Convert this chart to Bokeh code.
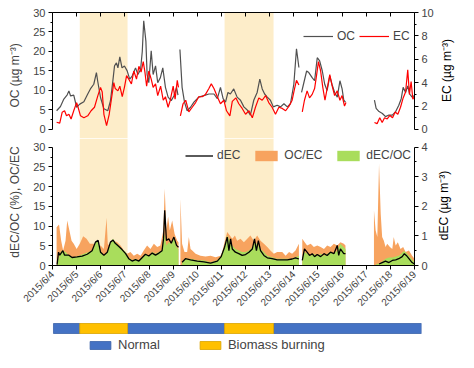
import math
from bokeh.plotting import figure
from bokeh.models import (Range1d, LinearAxis, FixedTicker, Legend, LegendItem,
                          BoxAnnotation, Label)
from bokeh.layouts import column, row
from bokeh.embed import file_html
from bokeh.resources import INLINE

nan = float("nan")
FONT = "Liberation Sans"

# ---------------- data (days since 2015/6/4 00:00) ----------------
day_labels = ["2015/6/4", "2015/6/5", "2015/6/6", "2015/6/7", "2015/6/8", "2015/6/9",
              "2015/6/10", "2015/6/11", "2015/6/12", "2015/6/13", "2015/6/14",
              "2015/6/15", "2015/6/16", "2015/6/17", "2015/6/18", "2015/6/19"]

# periods (Normal / Biomass burning)
phase_start = [0.04, 1.13, 3.11, 7.13, 9.16]
phase_end = [1.13, 3.11, 7.13, 9.16, 15.29]
phase_kind = ["Normal", "Biomass burning", "Normal", "Biomass burning", "Normal"]

# OC (µg m-3)
oc_t = [0.17, 0.33, 0.47, 0.61, 0.68, 0.75, 0.88, 1.00, 1.13, 1.30, 1.46, 1.57, 1.71, 1.82, 1.87,
        1.99, 2.13, 2.29, 2.40, 2.50, 2.57, 2.65, 2.71, 2.79, 2.88, 2.98, 3.09, 3.20, 3.30, 3.44,
        3.54, 3.65, 3.72, 3.78, 3.87, 3.92, 3.99, 4.09, 4.17, 4.27, 4.36, 4.47, 4.57, 4.68, 4.79,
        4.92, 5.03, 5.14, 5.20, 5.24,
        5.28, 5.37, 5.47, 5.58, 5.72, 5.86, 6.06, 6.27, 6.48, 6.69, 6.83, 6.96, 7.07, 7.17, 7.27,
        7.37, 7.51, 7.65, 7.79, 7.93, 8.07, 8.20, 8.34, 8.48, 8.59, 8.69, 8.79, 8.90, 9.03, 9.15,
        9.31, 9.45, 9.59, 9.73, 9.86, 10.00, 10.11, 10.21, 10.26,
        10.32, 10.40, 10.53, 10.62, 10.76, 10.86, 10.97, 11.07, 11.18, 11.28, 11.38, 11.49, 11.58,
        11.69, 11.80, 11.91, 12.00, 12.07, 12.14, 12.20,
        13.34, 13.41, 13.53, 13.67, 13.80, 13.94, 14.08, 14.22, 14.35, 14.45, 14.53, 14.63, 14.72,
        14.80, 14.90, 15.00]
oc_v = [4.8, 5.9, 7.8, 8.9, 9.9, 8.6, 8.8, 5.7, 6.5, 7.1, 9.1, 10.4, 11.6, 14.6, 12.5,
        8.2, 5.3, 4.8, 7.3, 12.4, 16.3, 17.1, 15.8, 18.6, 15.8, 16.3, 15.1, 12.9, 13.7, 15.8,
        14.1, 15.4, 20.0, 27.9, 22.6, 14.1, 12.0, 20.2, 14.1, 16.3, 12.0, 13.3, 15.8, 10.8, 8.3,
        7.4, 8.6, 10.8, 8.8, nan,
        20.5, 10.8, 7.0, 4.8, 5.7, 7.0, 8.3, 8.7, 9.1, 9.1, 7.9, 10.8, 7.9, 7.0, 9.5,
        9.1, 10.4, 8.3, 7.5, 5.8, 5.0, 3.7, 7.5, 9.5, 12.9, 10.4, 9.1, 8.3, 7.5, 5.8,
        6.2, 5.8, 6.6, 5.8, 6.6, 11.6, 20.7, 15.9, nan,
        9.5, 11.6, 15.0, 14.6, 13.3, 12.5, 18.4, 17.6, 15.0, 11.6, 10.0, 13.7, 11.6,
        9.5, 8.3, 12.5, 10.4, 7.5, 7.0, nan,
        7.5, 5.4, 4.6, 4.1, 3.3, 3.7, 3.7, 4.6, 6.2, 7.9, 10.8, 9.5, 11.2,
        9.1, 8.3, 8.7]

# EC (µg m-3)
ec_t = [0.17, 0.30, 0.40, 0.50, 0.58, 0.68, 0.77, 0.88, 1.00, 1.06, 1.16, 1.30, 1.46, 1.60, 1.74,
        1.88, 1.99, 2.06, 2.13, 2.24, 2.35, 2.47, 2.54, 2.60, 2.71, 2.79, 2.89, 2.98, 3.07, 3.16,
        3.27, 3.37, 3.48, 3.58, 3.67, 3.76, 3.83, 3.90, 3.99, 4.09, 4.17, 4.27, 4.36, 4.48, 4.59,
        4.68, 4.79, 4.88, 5.00, 5.08, 5.17, 5.22, 5.26,
        5.30, 5.41, 5.52, 5.65, 5.79, 5.93, 6.06, 6.20, 6.34, 6.48, 6.58, 6.69, 6.83, 6.96, 7.10,
        7.21, 7.35, 7.45, 7.60, 7.72, 7.86, 8.00, 8.14, 8.28, 8.41, 8.55, 8.69, 8.83, 8.96, 9.10,
        9.24, 9.38, 9.52, 9.66, 9.80, 9.93, 10.03, 10.11, 10.21, 10.28,
        10.35, 10.44, 10.55, 10.65, 10.76, 10.86, 10.94, 11.02, 11.11, 11.20, 11.29, 11.38, 11.49,
        11.59, 11.69, 11.80, 11.91, 12.00, 12.10, 12.16, 12.20,
        13.34, 13.45, 13.56, 13.66, 13.76, 13.87, 13.98, 14.09, 14.20, 14.31, 14.42, 14.53, 14.63,
        14.72, 14.79, 14.86, 14.93, 15.00]
ec_v = [0.62, 0.55, 1.47, 1.60, 1.17, 1.30, 0.90, 1.60, 2.30, 1.90, 1.17, 1.00, 1.17, 1.60, 1.90,
        2.90, 3.60, 3.20, 1.30, 0.34, 1.30, 3.00, 4.00, 3.50, 3.30, 3.70, 2.80, 3.60, 4.60, 4.30,
        3.90, 5.00, 4.30, 5.40, 4.90, 5.80, 4.90, 3.70, 5.00, 4.30, 3.60, 3.90, 2.90, 3.70, 2.50,
        2.80, 1.90, 2.50, 3.70, 2.60, 4.20, 3.60, nan,
        1.17, 2.20, 2.50, 1.50, 1.90, 2.30, 2.80, 2.80, 3.00, 3.50, 3.90, 3.50, 2.80, 2.20, 2.50,
        1.60, 1.17, 2.40, 2.70, 2.20, 1.80, 1.30, 1.60, 1.00, 1.90, 2.70, 2.50, 2.90, 2.30, 1.90,
        1.30, 1.90, 1.80, 1.60, 2.00, 2.50, 3.50, 4.20, 3.80, nan,
        1.50, 2.50, 3.30, 2.70, 3.00, 3.50, 4.60, 5.80, 5.00, 3.60, 2.50, 3.50, 4.70,
        3.70, 2.90, 3.30, 2.50, 2.90, 2.00, 2.30, nan,
        0.60, 0.50, 1.00, 0.60, 1.00, 0.90, 1.20, 1.00, 1.50, 1.30, 1.90, 2.70, 3.20,
        5.10, 3.00, 4.10, 2.60, 2.80]

# OC/EC ratio
ocec_t = [0.17, 0.27, 0.36, 0.44, 0.54, 0.61, 0.70, 0.79, 0.88, 1.00, 1.13, 1.27, 1.41, 1.55, 1.71,
          1.85, 1.99, 2.13, 2.24, 2.29, 2.40, 2.54, 2.68, 2.82, 2.96, 3.09, 3.23, 3.37, 3.51, 3.65,
          3.78, 3.92, 4.06, 4.20, 4.34, 4.47, 4.59, 4.65, 4.72, 4.79, 4.86, 4.96, 5.06, 5.17, 5.22,
          5.26,
          5.30, 5.37, 5.47, 5.58, 5.65, 5.72, 5.79, 5.93, 6.13, 6.34, 6.55, 6.76, 6.96, 7.03, 7.13,
          7.24, 7.35, 7.45, 7.56, 7.65, 7.79, 7.93, 8.07, 8.20, 8.34, 8.48, 8.62, 8.76, 8.90, 9.03,
          9.17, 9.31, 9.52, 9.66, 9.80, 9.93, 10.07, 10.21, 10.28,
          10.35, 10.45, 10.55, 10.70, 10.83, 10.97, 11.11, 11.25, 11.38, 11.52, 11.66, 11.80, 11.93,
          12.07, 12.14, 12.20,
          13.32, 13.39, 13.46, 13.53, 13.60, 13.66, 13.73, 13.80, 13.87, 13.98, 14.08, 14.14, 14.22,
          14.31, 14.42, 14.53, 14.63, 14.77, 14.90, 15.00]
ocec_v = [9.7, 10.4, 6.3, 3.8, 6.3, 11.4, 8.9, 6.3, 5.5, 4.2, 5.5, 7.4, 6.8, 5.5, 5.5,
          4.7, 5.1, 4.2, 12.1, 5.5, 4.7, 6.3, 5.9, 5.1, 3.8, 3.0, 3.4, 2.5, 3.0, 2.5,
          3.8, 5.1, 4.2, 5.5, 4.7, 5.1, 8.9, 19.5, 8.9, 12.4, 8.9, 11.4, 8.0, 6.3, 5.9,
          nan,
          16.9, 5.5, 3.4, 3.4, 7.2, 4.2, 3.8, 3.0, 2.5, 2.3, 2.5, 2.1, 2.5, 3.4, 5.9,
          8.5, 7.6, 6.8, 7.6, 6.3, 6.8, 5.9, 6.8, 7.6, 6.3, 7.6, 6.3, 5.5, 4.7, 3.8,
          3.0, 3.4, 3.4, 2.5, 3.4, 3.0, 3.8, 5.5, nan,
          6.8, 5.9, 5.1, 5.5, 4.7, 5.1, 4.7, 4.2, 5.1, 4.7, 5.5, 5.1, 5.9,
          5.5, 5.1, nan,
          14.0, 8.9, 7.2, 25.8, 13.1, 7.2, 6.3, 4.7, 5.5, 4.7, 4.2, 7.2, 5.1,
          5.9, 4.2, 4.7, 3.4, 3.8, 2.5, 1.7]

# dEC/OC (%)
decoc_t = [0.19, 0.30, 0.39, 0.54, 0.68, 0.88, 1.09, 1.30, 1.50, 1.64, 1.78, 1.89, 1.99, 2.13, 2.27,
           2.40, 2.51, 2.60, 2.75, 2.89, 3.03, 3.16, 3.30, 3.44, 3.58, 3.72, 3.85, 3.99, 4.13, 4.27,
           4.41, 4.54, 4.64, 4.72, 4.82, 4.92, 5.03, 5.14, 5.22, 5.26,
           5.37, 5.51, 5.72, 6.00, 6.27, 6.55, 6.83, 6.99, 7.13, 7.24, 7.35, 7.45, 7.58, 7.72, 7.86,
           8.00, 8.14, 8.28, 8.41, 8.51, 8.62, 8.76, 8.90, 9.10, 9.31, 9.52, 9.73, 9.93, 10.07, 10.21,
           10.28,
           10.35, 10.45, 10.55, 10.70, 10.83, 10.97, 11.11, 11.25, 11.38, 11.52, 11.66, 11.80, 11.93,
           12.07, 12.14, 12.20,
           13.40, 13.53, 13.66, 13.80, 13.94, 14.08, 14.22, 14.35, 14.45, 14.55, 14.63, 14.77, 14.90,
           15.00]
decoc_v = [0.4, 3.0, 3.8, 3.4, 2.5, 2.1, 2.5, 3.0, 3.4, 3.8, 5.9, 6.3, 3.8, 2.5, 3.4,
           5.9, 6.8, 5.9, 5.1, 4.2, 3.4, 2.1, 1.3, 1.7, 1.3, 2.1, 3.0, 2.5, 3.4, 3.0,
           3.4, 3.8, 8.0, 5.1, 5.9, 5.5, 7.2, 4.7, 4.2, nan,
           0.8, 1.7, 1.7, 1.3, 1.3, 0.8, 1.3, 2.5, 5.1, 7.6, 6.3, 5.1, 4.2, 3.8, 3.4,
           3.4, 3.8, 4.7, 5.9, 5.1, 4.2, 3.4, 2.5, 2.1, 1.7, 1.7, 1.7, 1.7, 2.1, 2.5,
           nan,
           2.0, 3.4, 3.0, 2.5, 3.0, 2.5, 3.0, 2.5, 3.0, 3.4, 3.0, 3.8, 5.5,
           4.6, 4.2, nan,
           0.3, 0.5, 1.0, 1.7, 2.0, 2.0, 2.3, 2.5, 3.0, 3.6, 3.4, 2.5, 1.5,
           0.8]

# dEC (µg m-3)
dec_t = [0.19, 0.25, 0.30, 0.43, 0.50, 0.68, 0.81, 1.02, 1.23, 1.44, 1.64, 1.78, 1.89, 1.99, 2.13,
         2.27, 2.40, 2.51, 2.60, 2.75, 2.89, 3.03, 3.16, 3.30, 3.44, 3.58, 3.72, 3.85, 3.99, 4.13,
         4.27, 4.41, 4.54, 4.60, 4.65, 4.72, 4.82, 4.92, 5.03, 5.14, 5.22, 5.26,
         5.37, 5.51, 5.72, 6.00, 6.27, 6.55, 6.83, 6.99, 7.13, 7.24, 7.31, 7.38, 7.45, 7.58, 7.72,
         7.86, 8.00, 8.14, 8.28, 8.37, 8.45, 8.53, 8.62, 8.76, 8.90, 9.10, 9.31, 9.52, 9.73, 9.93,
         10.07, 10.21, 10.28,
         10.35, 10.44, 10.55, 10.65, 10.76, 10.86, 10.97, 11.11, 11.25, 11.38, 11.52, 11.66, 11.80,
         11.86, 11.93, 12.07, 12.14, 12.20,
         13.53, 13.66, 13.80, 13.94, 14.08, 14.22, 14.35, 14.49, 14.58, 14.66, 14.77, 14.90, 15.00]
dec_v = [0.03, 0.45, 0.35, 0.50, 0.35, 0.35, 0.27, 0.29, 0.32, 0.38, 0.50, 0.79, 0.85, 0.45, 0.35,
         0.45, 0.79, 0.86, 0.75, 0.64, 0.53, 0.40, 0.23, 0.15, 0.20, 0.15, 0.27, 0.38, 0.32, 0.42,
         0.35, 0.42, 0.50, 0.90, 1.87, 0.85, 0.90, 0.75, 0.96, 0.68, 0.62, nan,
         0.11, 0.23, 0.19, 0.15, 0.12, 0.08, 0.15, 0.30, 0.62, 0.96, 0.50, 0.90, 0.56, 0.45, 0.40,
         0.34, 0.37, 0.45, 0.56, 0.90, 0.50, 0.84, 0.50, 0.34, 0.26, 0.23, 0.19, 0.19, 0.19, 0.22,
         0.26, 0.22, nan,
         0.17, 0.56, 0.45, 0.34, 0.40, 0.30, 0.37, 0.30, 0.40, 0.34, 0.45, 0.40, 0.68,
         0.34, 0.56, 0.40, 0.40, nan,
         0.05, 0.10, 0.15, 0.10, 0.17, 0.19, 0.23, 0.30, 0.40, 0.34, 0.23, 0.10, 0.05]

# ---------------- styles ----------------
C_OC = "#505050"
C_EC = "#FF0000"
C_OCEC = "#F7A35F"
C_DECOC = "#A9DD5C"
C_DEC = "#000000"
C_SHADE = "#FDEDC9"
C_NORMAL = "#4472C4"
C_BURN = "#FFC000"

W = 466          # total width
BORDER_L = 52
FRAME_W = 362
PANEL_R = 23     # room for right-hand tick labels
PANEL_W = BORDER_L + FRAME_W + PANEL_R
TITLE_W = W - PANEL_W
PX_PER_DAY = FRAME_W / 15.0
H_TOP, H_BOT, H_BAR = 138, 180, 42


def segments(t, v):
    segs, ct, cv = [], [], []
    for a, b in zip(t, v):
        if math.isnan(b):
            if ct:
                segs.append((ct, cv))
            ct, cv = [], []
        else:
            ct.append(a)
            cv.append(b)
    if ct:
        segs.append((ct, cv))
    return segs


def style_y_axis(ax):
    ax.axis_label_text_font = FONT
    ax.axis_label_text_font_size = "12px"
    ax.axis_label_text_font_style = "normal"
    ax.axis_label_standoff = 8
    ax.major_label_text_font = FONT
    ax.major_label_text_font_size = "11px"
    ax.major_label_standoff = 3
    ax.axis_line_color = "black"
    ax.major_tick_line_color = "black"
    ax.minor_tick_line_color = "black"
    ax.major_tick_out = 4
    ax.major_tick_in = 0
    ax.minor_tick_out = 2
    ax.minor_tick_in = 0


def title_strip(height, text, sx, sy):
    # narrow strip holding the right-hand axis title, read bottom-to-top
    t = figure(width=TITLE_W, height=height, x_range=Range1d(0, 1), y_range=Range1d(0, 1),
               output_backend="svg", toolbar_location=None,
               x_axis_location=None, y_axis_location=None,
               min_border_left=0, min_border_right=0, min_border_top=0, min_border_bottom=0)
    try:
        t.frame_align = False
    except Exception:
        pass
    t.grid.visible = False
    t.outline_line_color = None
    t.add_layout(Label(x=sx, y=sy, x_units="screen", y_units="screen", text=text,
                       angle=math.pi / 2, text_align="center", text_baseline="middle",
                       text_font=FONT, text_font_size="12px", text_color="black"))
    return t


def base_fig(height, y_range, top, bottom, xloc="below"):
    p = figure(width=PANEL_W, height=height, x_range=Range1d(0, 15), y_range=y_range,
               output_backend="svg", toolbar_location=None,
               x_axis_location=xloc, y_axis_location="left",
               min_border_left=BORDER_L, min_border_right=PANEL_R,
               min_border_top=top, min_border_bottom=bottom)
    p.grid.visible = False
    p.outline_line_color = None
    p.background_fill_color = "white"
    p.border_fill_color = "white"
    for s, e, k in zip(phase_start, phase_end, phase_kind):
        if k == "Biomass burning":
            p.add_layout(BoxAnnotation(left=s, right=e, fill_color=C_SHADE, fill_alpha=1.0,
                                       line_color=None, level="underlay"))
    return p


def make_legend(items, loc, spacing, glyph_w, glyph_h, size="12px", standoff=4):
    return Legend(items=items, orientation="horizontal", location=loc,
                  spacing=spacing, padding=0, margin=0, glyph_width=glyph_w,
                  glyph_height=glyph_h, label_standoff=standoff, label_height=12,
                  label_text_font=FONT, label_text_font_size=size,
                  border_line_alpha=0, background_fill_alpha=0)


day_ticks = list(range(len(day_labels)))

# ---------------- top panel: OC / EC ----------------
p1 = base_fig(H_TOP, Range1d(-2.31, 30), top=12, bottom=0, xloc="above")
p1.extra_y_ranges = {"ec": Range1d(-0.77, 10)}
top_ax = p1.xaxis[0]
top_ax.ticker = FixedTicker(ticks=day_ticks)
top_ax.major_label_text_font_size = "1px"
top_ax.major_label_text_color = None
top_ax.major_label_standoff = 0
top_ax.major_tick_in = 4
top_ax.major_tick_out = 0
top_ax.minor_tick_line_color = None
top_ax.axis_line_color = "black"

ly = p1.yaxis[0]
ly.ticker = FixedTicker(ticks=[0, 5, 10, 15, 20, 25, 30],
                        minor_ticks=[2.5, 7.5, 12.5, 17.5, 22.5, 27.5])
ly.bounds = (0, 30)
ly.axis_label = "OC (µg m⁻³)"
style_y_axis(ly)

ry = LinearAxis(y_range_name="ec",
                ticker=FixedTicker(ticks=[0, 2, 4, 6, 8, 10], minor_ticks=[1, 3, 5, 7, 9]))
ry.bounds = (0, 10)
style_y_axis(ry)
p1.add_layout(ry, "right")

r_oc = None
for t, v in segments(oc_t, oc_v):
    r = p1.line(t, v, line_color=C_OC, line_width=1.2)
    r_oc = r_oc or r
r_ec = None
for t, v in segments(ec_t, ec_v):
    r = p1.line(t, v, line_color=C_EC, line_width=1.2, y_range_name="ec")
    r_ec = r_ec or r

p1.add_layout(make_legend([LegendItem(label="OC", renderers=[r_oc]),
                           LegendItem(label="EC", renderers=[r_ec])],
                          (251, 95), 2, 30, 12), "center")
t1 = title_strip(H_TOP, "EC (µg m⁻³)", 9, 68)

# ---------------- bottom panel: ratios / dEC ----------------
p2 = base_fig(H_BOT, Range1d(0, 32.2), top=0, bottom=53)
p2.extra_y_ranges = {"dec": Range1d(0, 4.293)}
bx = p2.xaxis[0]
bx.ticker = FixedTicker(ticks=day_ticks)
bx.major_label_overrides = {i: lab for i, lab in enumerate(day_labels)}
bx.major_label_orientation = math.pi / 4
bx.major_label_text_font = FONT
bx.major_label_text_font_size = "10px"
bx.major_label_standoff = 3
bx.major_tick_out = 4
bx.major_tick_in = 0
bx.minor_tick_line_color = None
bx.axis_line_color = "black"

ly2 = p2.yaxis[0]
ly2.ticker = FixedTicker(ticks=[0, 5, 10, 15, 20, 25, 30],
                         minor_ticks=[2.5, 7.5, 12.5, 17.5, 22.5, 27.5])
ly2.bounds = (0, 30)
ly2.axis_label = "dEC/OC (%), OC/EC"
style_y_axis(ly2)

ry2 = LinearAxis(y_range_name="dec",
                 ticker=FixedTicker(ticks=[0, 1, 2, 3, 4], minor_ticks=[0.5, 1.5, 2.5, 3.5]))
ry2.bounds = (0, 4)
style_y_axis(ry2)
p2.add_layout(ry2, "right")

r_ocec = None
for t, v in segments(ocec_t, ocec_v):
    r = p2.varea(x=t, y1=[0] * len(v), y2=v, fill_color=C_OCEC)
    r_ocec = r_ocec or r
r_decoc = None
for t, v in segments(decoc_t, decoc_v):
    r = p2.varea(x=t, y1=[0] * len(v), y2=v, fill_color=C_DECOC)
    r_decoc = r_decoc or r
r_dec = None
for t, v in segments(dec_t, dec_v):
    r = p2.line(t, v, line_color=C_DEC, line_width=1.3, y_range_name="dec")
    r_dec = r_dec or r

p2.add_layout(make_legend([LegendItem(label="dEC", renderers=[r_dec]),
                           LegendItem(label="OC/EC", renderers=[r_ocec]),
                           LegendItem(label="dEC/OC", renderers=[r_decoc])],
                          (133, 103), 12, 28, 13), "center")
t2 = title_strip(H_BOT, "dEC (µg m⁻³)", 6, 113)

# ---------------- period bar ----------------
x_end = phase_end[-1]
p3 = figure(width=W, height=H_BAR, x_range=Range1d(0, x_end), y_range=Range1d(0, H_BAR),
            output_backend="svg", toolbar_location=None,
            x_axis_location=None, y_axis_location=None,
            min_border_left=BORDER_L, min_border_right=W - BORDER_L - round(x_end * PX_PER_DAY),
            min_border_top=0, min_border_bottom=0)
try:
    p3.frame_align = False
except Exception:
    pass
p3.grid.visible = False
p3.outline_line_color = None
norm = [(s, e) for s, e, k in zip(phase_start, phase_end, phase_kind) if k == "Normal"]
burn = [(s, e) for s, e, k in zip(phase_start, phase_end, phase_kind) if k != "Normal"]
r_n = p3.quad(left=[a for a, b in norm], right=[b for a, b in norm], bottom=27, top=37,
              fill_color=C_NORMAL, line_color="#3A62A8", line_width=0.8)
r_b = p3.quad(left=[a for a, b in burn], right=[b for a, b in burn], bottom=27, top=37,
              fill_color=C_BURN, line_color="#D9A300", line_width=0.8)
p3.add_layout(make_legend([LegendItem(label="Normal", renderers=[r_n]),
                           LegendItem(label="Biomass burning", renderers=[r_b])],
                          (35, 8), 37, 26, 10, size="13px", standoff=5), "center")

layout = column(row(p1, t1, spacing=0), row(p2, t2, spacing=0), p3, spacing=0)
open("out.html", "w").write(file_html(layout, INLINE))
